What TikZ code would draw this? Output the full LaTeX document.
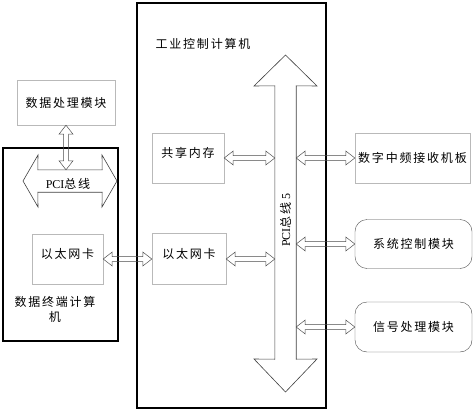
\documentclass[tikz,border=0pt]{standalone}
\usepackage{fontspec}
\setmainfont{Liberation Serif}
\newfontfamily\cjk{Noto Sans CJK SC}[LetterSpace=15]
\usetikzlibrary{calc}
\tikzset{
  module/.style={draw=gray!55, rectangle, minimum height=50, inner sep=0, font=\fontsize{12}{15}\cjk},
  card/.style={module, text height=10.5, text depth=12},
  rmodule/.style={module, draw=black!70, rounded corners=12},
  frame/.style={draw=black, line width=1.2, minimum width=#1, inner sep=0},
  bigarrow/.style={draw=black!75, line width=0.6},
  link/.style={draw=black!70, line width=0.5, to path={
      ($(\tikztostart)!9pt!(\tikztotarget)$) coordinate (la)
      ($(\tikztotarget)!9pt!(\tikztostart)$) coordinate (lb)
      (\tikztostart) -- ($(la)!7pt!90:(\tikztotarget)$) -- ($(la)!2.5pt!90:(\tikztotarget)$)
      -- ($(lb)!2.5pt!-90:(\tikztostart)$) -- ($(lb)!7pt!-90:(\tikztostart)$) -- (\tikztotarget)
      -- ($(lb)!7pt!90:(\tikztostart)$) -- ($(lb)!2.5pt!90:(\tikztostart)$)
      -- ($(la)!2.5pt!-90:(\tikztotarget)$) -- ($(la)!7pt!-90:(\tikztotarget)$) -- cycle}}
}
\begin{document}
\begin{tikzpicture}[x=1pt, y=-1pt]
  \useasboundingbox (0,0) rectangle (474,412);
  \node[frame=189, minimum height=405] (ipc) at (231.5,205.5) {};
  \node[frame=115, minimum height=193] (term) at (60.5,244.5) {};
  \node[font=\fontsize{12}{15}\cjk] (title) at (203,44) {工业控制计算机};
  \node[module, minimum width=98, minimum height=45] (dpm) at (66,102.5) {数据处理模块};
  \node[card, minimum width=72] (shm) at (188,158) {共享内存};
  \node[card, minimum width=74, minimum height=51] (inic) at (189,259) {以太网卡};
  \node[card, minimum width=71] (tnic) at (67.5,259) {以太网卡};
  \node[module, minimum width=115] (rx) at (412.5,158) {数字中频接收机板};
  \node[rmodule, minimum width=117, minimum height=49] (sc) at (413.5,244) {系统控制模块};
  \node[rmodule, minimum width=117] (sp) at (413.5,327) {信号处理模块};
  \node[font=\fontsize{12}{15}\cjk, align=center] (termlabel) at (55,309.5) {数据终端计算\\机};
  \node[inner sep=0, minimum width=21, minimum height=273] (bus) at (285.5,222.5) {};
  \draw[bigarrow] (bus.north west) -- (254,86) -- (285.5,55) -- (317,86) -- (bus.north east)
    -- (bus.south east) -- (317,359) -- (285.5,392) -- (254,359) -- (bus.south west) -- cycle;
  \node[rotate=90, font=\fontsize{12}{15}\selectfont] (buslabel) at (285.5,220) {PCI{\cjk 总线} 5};
  \node[inner sep=0, minimum width=64, minimum height=22] (pci) at (70,181) {};
  \draw[bigarrow] (pci.north west) -- (38,155) -- (23,181) -- (38,207) -- (pci.south west)
    -- (pci.south east) -- (102,207) -- (117,181) -- (102,155) -- (pci.north east) -- cycle;
  \node[font=\fontsize{12}{15}\selectfont] (pcilabel) at (68,184) {PCI{\cjk 总线}};
  \coordinate (p1) at (dpm.south |- pci.north);
  \coordinate (b1) at (shm.east -| bus.west);
  \coordinate (b2) at (inic.east -| bus.west);
  \coordinate (b3) at (bus.east |- rx.west);
  \coordinate (b4) at (bus.east |- sc.west);
  \coordinate (b5) at (bus.east |- sp.west);
  \draw[link] (dpm.south) to (p1);
  \draw[link] (shm.east) to (b1);
  \draw[link] (inic.east) to (b2);
  \draw[link] (tnic.east) to (inic.west);
  \draw[link] (b3) to (rx.west);
  \draw[link] (b4) to (sc.west);
  \draw[link] (b5) to (sp.west);
\end{tikzpicture}
\end{document}
